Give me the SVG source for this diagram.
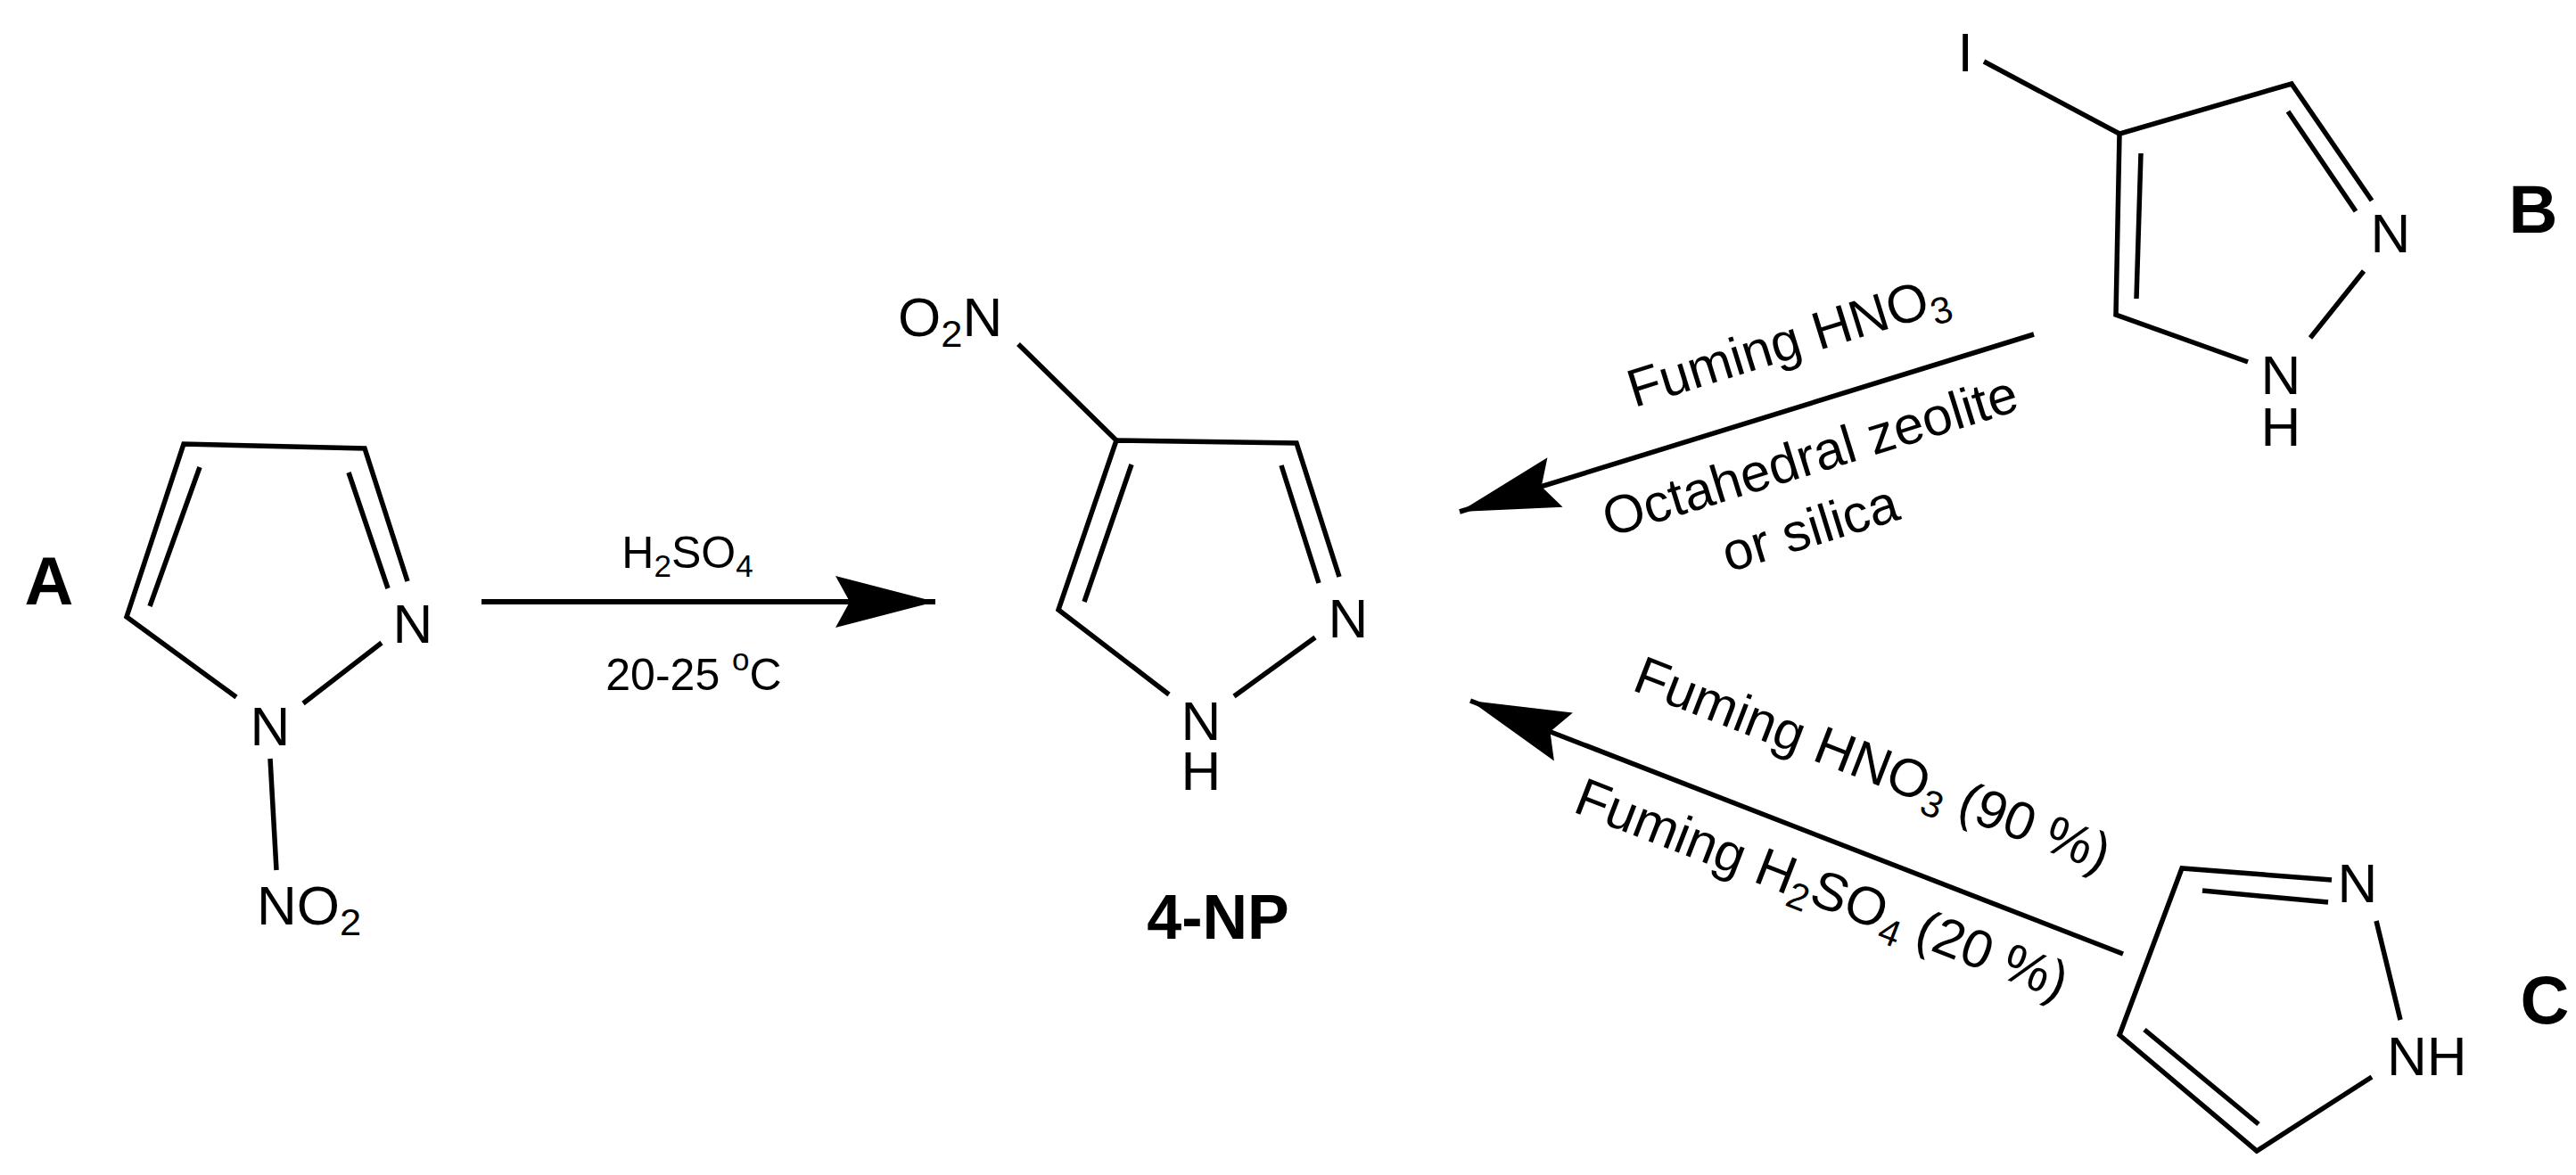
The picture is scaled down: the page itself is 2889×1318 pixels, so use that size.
<svg xmlns="http://www.w3.org/2000/svg" width="2889" height="1318" viewBox="0 0 2889 1318">
<style>
.b{stroke:#000;stroke-width:5.5;fill:none;stroke-linecap:butt;stroke-linejoin:miter}
.t{font-family:"Liberation Sans",Arial,sans-serif;font-size:62px;fill:#000}
.r{font-family:"Liberation Sans",Arial,sans-serif;font-size:50px;fill:#000}
.q{font-family:"Liberation Sans",Arial,sans-serif;font-size:60px;fill:#000}
.l{font-family:"Liberation Sans",Arial,sans-serif;font-size:76px;font-weight:bold;fill:#000}
.s{font-size:70%}
</style>
<defs>
<marker id="ah" viewBox="-112 -30 114 60" refX="0" refY="0" markerWidth="114" markerHeight="60" markerUnits="userSpaceOnUse" orient="auto">
<path d="M0,0 L-112,-29 L-96,0 L-112,29 Z" fill="#000"/>
</marker>
</defs>
<rect width="2889" height="1318" fill="#fff"/>
<g id="A">
<path class="b" d="M265,782 L142,692 L206,498 L409,503 L457,652"/>
<path class="b" d="M224,524 L168,680 M391,530 L435,660 M340,789 L428,721 M303,851 L310,976"/>
<text class="t" x="463" y="721" text-anchor="middle">N</text>
<text class="t" x="303" y="836" text-anchor="middle">N</text>
<text class="t" x="288" y="1037">NO<tspan class="s" dy="12">2</tspan></text>
<text class="l" x="55" y="678" text-anchor="middle">A</text>
</g>
<g id="NP">
<path class="b" d="M1311,779 L1187,684 L1252,494 L1454,497 L1502,647"/>
<path class="b" d="M1269,521 L1216,675 M1437,522 L1479,654 M1384,781 L1475,715 M1142,386 L1252,494"/>
<text class="t" x="1512" y="715" text-anchor="middle">N</text>
<text class="t" x="1347" y="830" text-anchor="middle">N</text>
<text class="t" x="1347" y="886" text-anchor="middle">H</text>
<text class="t" x="1007" y="377">O<tspan class="s" dy="12">2</tspan><tspan dy="-12">N</tspan></text>
<text class="l" x="1366" y="1053" text-anchor="middle" style="font-size:70px">4-NP</text>
</g>
<g id="B">
<path class="b" d="M2521,406 L2373,353 L2377,150 L2570,94 L2660,225"/>
<path class="b" d="M2401,172 L2396,335 M2566,125 L2642,237 M2591,379 L2651,304 M2225,69 L2377,150"/>
<text class="t" x="2204" y="80" text-anchor="middle">I</text>
<text class="t" x="2681" y="283" text-anchor="middle">N</text>
<text class="t" x="2558" y="442" text-anchor="middle">N</text>
<text class="t" x="2558" y="500" text-anchor="middle">H</text>
<text class="l" x="2841" y="261" text-anchor="middle">B</text>
</g>
<g id="C">
<path class="b" d="M2615,987 L2447,974 L2377,1161 L2531,1291 L2660,1208"/>
<path class="b" d="M2470,999 L2611,1012 M2405,1155 L2533,1261 M2665,1033 L2692,1144"/>
<text class="t" x="2644" y="1012" text-anchor="middle">N</text>
<text class="t" x="2677" y="1206">NH</text>
<text class="l" x="2854" y="1148" text-anchor="middle">C</text>
</g>
<g id="connectors">
<line class="b" x1="540" y1="675" x2="1049" y2="675" marker-end="url(#ah)" style="stroke-width:6"/>
<line class="b" x1="2281" y1="375" x2="1637" y2="574" marker-end="url(#ah)"/>
<line class="b" x1="2381" y1="1070" x2="1649" y2="786" marker-end="url(#ah)"/>
<text class="r" x="771" y="637" text-anchor="middle">H<tspan class="s" dy="10">2</tspan><tspan dy="-10">SO</tspan><tspan class="s" dy="10">4</tspan></text>
<text class="r" x="778" y="774" text-anchor="middle">20-25 <tspan class="s" dy="-22">o</tspan><tspan dy="22">C</tspan></text>
<g transform="rotate(-17.2 2011 402)"><text class="q" x="2011" y="402" text-anchor="middle">Fuming HNO<tspan class="s" dy="12">3</tspan></text></g>
<g transform="rotate(-17.2 2036 531)"><text class="q" x="2036" y="531" text-anchor="middle">Octahedral zeolite</text></g>
<g transform="rotate(-17.2 2036 612)"><text class="q" x="2036" y="612" text-anchor="middle">or silica</text></g>
<g transform="rotate(21.2 2093 876)"><text class="q" x="2093" y="876" text-anchor="middle">Fuming HNO<tspan class="s" dy="12">3</tspan><tspan dy="-12"> (90 %)</tspan></text></g>
<g transform="rotate(21.2 2036 1016)"><text class="q" x="2036" y="1016" text-anchor="middle">Fuming H<tspan class="s" dy="12">2</tspan><tspan dy="-12">SO</tspan><tspan class="s" dy="12">4</tspan><tspan dy="-12"> (20 %)</tspan></text></g>
</g>
</svg>
